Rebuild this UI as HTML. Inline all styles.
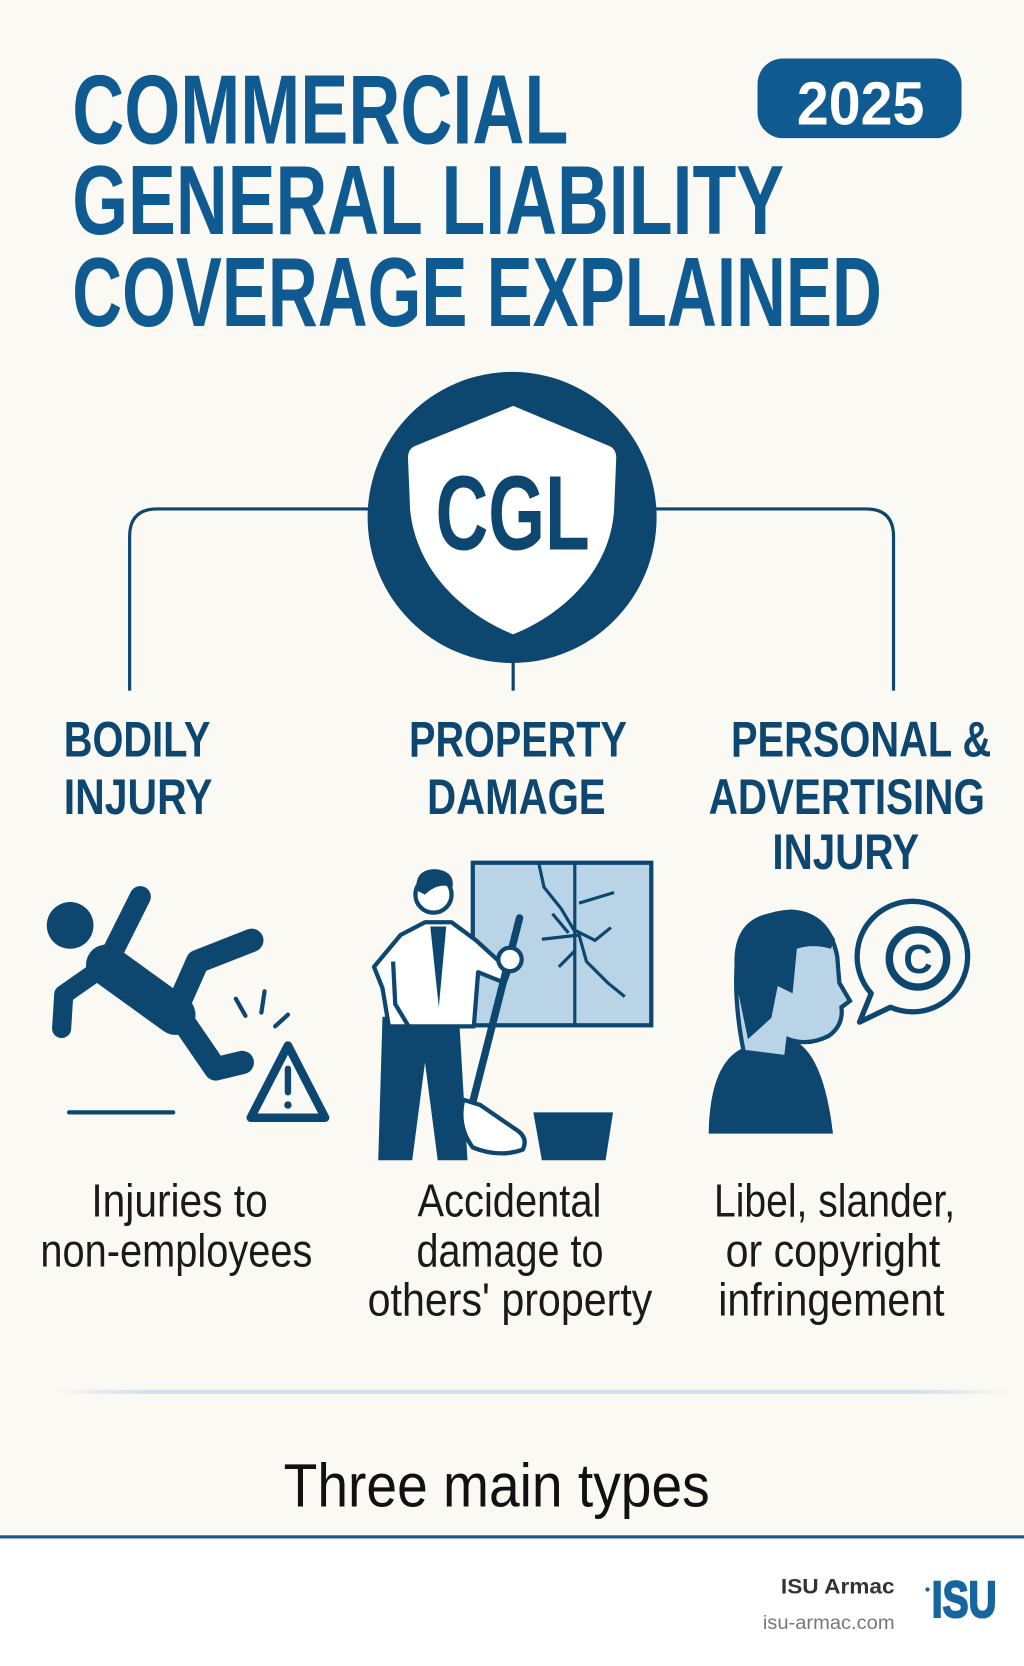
<!DOCTYPE html>
<html><head><meta charset="utf-8"><style>
html,body{margin:0;padding:0;background:#fbf9f4;}
svg{display:block;}
text{font-family:"Liberation Sans",sans-serif;}
</style></head><body>
<svg width="1024" height="1666" viewBox="0 0 963.8 1568" xmlns="http://www.w3.org/2000/svg">
<defs>
<linearGradient id="dv" x1="0" x2="1" y1="0" y2="0">
<stop offset="0" stop-color="#cfe0ea" stop-opacity="0"/>
<stop offset="0.1" stop-color="#cfe0ea"/>
<stop offset="0.9" stop-color="#cfe0ea"/>
<stop offset="1" stop-color="#cfe0ea" stop-opacity="0"/>
</linearGradient>
</defs>
<rect width="963.8" height="1568" fill="#fbf9f4"/>

<!-- Title -->
<g fill="#105a92" font-weight="bold" font-size="93">
<text x="68" y="135" textLength="467" lengthAdjust="spacingAndGlyphs">COMMERCIAL</text>
<text x="68" y="220" textLength="670" lengthAdjust="spacingAndGlyphs">GENERAL LIABILITY</text>
<text x="68" y="307" textLength="762" lengthAdjust="spacingAndGlyphs">COVERAGE EXPLAINED</text>
</g>
<rect x="713" y="55" width="192" height="75" rx="24" fill="#105a92"/>
<text x="750" y="117" font-size="58" font-weight="bold" fill="#fff" textLength="120" lengthAdjust="spacingAndGlyphs">2025</text>

<!-- Connectors -->
<g fill="none" stroke="#0d4770" stroke-width="3">
<path d="M350 479 H148 Q122 479 122 505 V650"/>
<path d="M617 479 H815 Q841 479 841 505 V650"/>
<path d="M483 620 V650"/>
</g>
<!-- CGL shield -->
<ellipse cx="482" cy="487" rx="136" ry="137" fill="#0d4770"/>
<path d="M483 382 L390 420 Q384 423 384 431 L386 480 C392 540 440 580 483 597 C526 580 574 540 578 480 L580 431 Q580 423 574 420 Z" fill="#fff"/>
<text x="410" y="517" font-size="100" font-weight="bold" fill="#0d4770" textLength="145" lengthAdjust="spacingAndGlyphs">CGL</text>

<!-- Headings -->
<g fill="#0d4770" font-weight="bold" font-size="47">
<text x="60" y="712" textLength="138" lengthAdjust="spacingAndGlyphs">BODILY</text>
<text x="60" y="766" textLength="140" lengthAdjust="spacingAndGlyphs">INJURY</text>
<text x="385" y="712" textLength="205" lengthAdjust="spacingAndGlyphs">PROPERTY</text>
<text x="402" y="766" textLength="168" lengthAdjust="spacingAndGlyphs">DAMAGE</text>
<text x="688" y="712" textLength="245" lengthAdjust="spacingAndGlyphs">PERSONAL &amp;</text>
<text x="667" y="766" textLength="260" lengthAdjust="spacingAndGlyphs">ADVERTISING</text>
<text x="727" y="818" textLength="138" lengthAdjust="spacingAndGlyphs">INJURY</text>
</g>

<!-- Falling man -->
<g stroke="#0d4770" fill="none" stroke-linecap="round" stroke-linejoin="round">
<circle cx="66" cy="871" r="22" fill="#0d4770" stroke="none"/>
<path d="M100 908 L132 844" stroke-width="20"/>
<path d="M100 908 L165 955" stroke-width="38"/>
<path d="M100 908 L60 936 L58 968" stroke-width="18"/>
<path d="M166 950 L186 905 L237 885" stroke-width="22"/>
<path d="M166 952 L203 1006 L228 1000" stroke-width="22"/>
<path d="M65 1047 H163" stroke-width="4"/>
<path d="M222 940 L231 956 M249 933 L246 953 M271 955 L259 966" stroke-width="4"/>
<path d="M271 984 L236 1052 L306 1052 Z" stroke-width="8" fill="#fbf9f4"/>
<path d="M271 1006 V1028" stroke-width="6"/>
<circle cx="271" cy="1040" r="3.5" fill="#0d4770" stroke="none"/>
</g>

<!-- Property damage -->
<rect x="445" y="812" width="168" height="153" fill="#b8d4e6" stroke="#0d4770" stroke-width="4"/>
<g stroke="#0d4770" stroke-width="3" fill="none">
<path d="M541 812 V965"/>
<path d="M507 812 L512 835 L528 855 L540 875 L560 885 L575 873 M510 884 L545 880 L552 905 L572 925 L588 938 M526 910 L541 895 M520 860 L535 878 M545 850 L578 840"/>
</g>
<path d="M360 957 H432 L440 1092 H412 L400 1000 L388 1092 H356 Z" fill="#0d4770"/>
<path d="M377 880 L400 868 L425 868 L448 885 L470 905 L485 898 L475 925 L450 915 L446 966 H366 L360 930 L352 910 Z" fill="#fff" stroke="#0d4770" stroke-width="4" stroke-linejoin="round"/>
<path d="M405 872 L413 948 L420 872 Z" fill="#0d4770"/>
<path d="M370 905 L372 945 L390 975" fill="none" stroke="#0d4770" stroke-width="4"/>
<circle cx="408" cy="842" r="17" fill="#fff" stroke="#0d4770" stroke-width="4"/>
<path d="M392 838 Q390 818 410 818 Q428 820 426 835 Q412 830 400 842 Z" fill="#0d4770"/>
<path d="M489 864 L443 1045" stroke="#0d4770" stroke-width="7" stroke-linecap="round"/>
<circle cx="480" cy="903" r="11" fill="#fff" stroke="#0d4770" stroke-width="4"/>
<path d="M436 1035 Q430 1060 445 1080 Q470 1090 492 1082 Q498 1070 484 1062 L452 1040 Z" fill="#fff" stroke="#0d4770" stroke-width="4"/>
<path d="M502 1047 H577 L570 1092 H510 Z" fill="#0d4770"/>

<!-- Personal injury -->
<path d="M667 1067 Q668 1000 700 986 L745 978 Q775 990 784 1067 Z" fill="#0d4770"/>
<path d="M700 990 Q690 940 694 900 Q700 860 745 858 Q780 860 788 900 L790 925 L800 942 L792 948 Q794 965 780 975 Q760 985 742 978 L740 995 Z" fill="#b8d4e6" stroke="#0d4770" stroke-width="4"/>
<path d="M694 930 Q682 870 722 860 Q765 850 786 884 L782 893 Q765 888 750 893 L746 935 L732 928 L726 958 L704 978 Z" fill="#0d4770"/>
<path d="M838 948 A52 52 0 1 0 820 935 L809 962 Z" fill="#fbf9f4" stroke="#0d4770" stroke-width="5" stroke-linejoin="round"/>
<circle cx="864" cy="902" r="27" fill="none" stroke="#0d4770" stroke-width="7"/>
<text x="864" y="916" text-anchor="middle" font-size="38" font-weight="bold" fill="#0d4770">C</text>

<!-- Descriptions -->
<g fill="#1a1a1a" font-size="44">
<text x="86" y="1145" textLength="166" lengthAdjust="spacingAndGlyphs">Injuries to</text>
<text x="38" y="1192" textLength="256" lengthAdjust="spacingAndGlyphs">non-employees</text>
<text x="393" y="1145" textLength="173" lengthAdjust="spacingAndGlyphs">Accidental</text>
<text x="392" y="1192" textLength="176" lengthAdjust="spacingAndGlyphs">damage to</text>
<text x="346" y="1238" textLength="268" lengthAdjust="spacingAndGlyphs">others' property</text>
<text x="672" y="1145" textLength="227" lengthAdjust="spacingAndGlyphs">Libel, slander,</text>
<text x="683" y="1192" textLength="202" lengthAdjust="spacingAndGlyphs">or copyright</text>
<text x="676" y="1238" textLength="213" lengthAdjust="spacingAndGlyphs">infringement</text>
</g>

<rect x="50" y="1308" width="900" height="4" fill="url(#dv)"/>
<text x="267" y="1418" font-size="58" fill="#111" textLength="401" lengthAdjust="spacingAndGlyphs">Three main types</text>

<rect x="0" y="1447" width="963.8" height="121" fill="#fff"/>
<rect x="0" y="1445" width="963.8" height="3" fill="#1a5a8f"/>
<text x="735" y="1500" font-size="20" font-weight="bold" fill="#333" textLength="107" lengthAdjust="spacingAndGlyphs">ISU Armac</text>
<text x="718" y="1533" font-size="18" fill="#777" textLength="124" lengthAdjust="spacingAndGlyphs">isu-armac.com</text>
<text x="877" y="1522" font-size="48" font-weight="bold" fill="#1565a0" stroke="#1565a0" stroke-width="2" textLength="61" lengthAdjust="spacingAndGlyphs">ISU</text>
<circle cx="873" cy="1496" r="2" fill="#1565a0"/>
</svg>
</body></html>
